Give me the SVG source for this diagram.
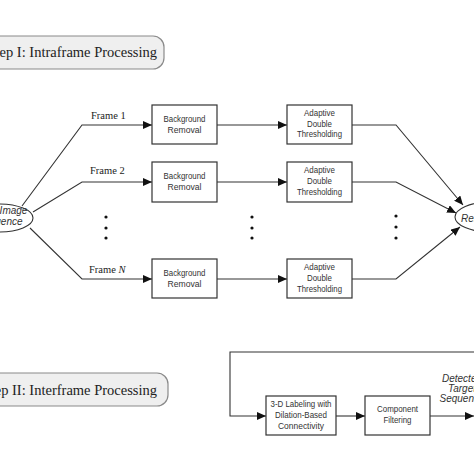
<svg xmlns="http://www.w3.org/2000/svg" width="474" height="474" viewBox="0 0 474 474">
<style>
.bg{fill:#ffffff}
.step{fill:#efefef;stroke:#8a8a8a;stroke-width:1.2}
.steptxt{font-family:"Liberation Serif",serif;font-size:14.5px;fill:#222;text-anchor:end}
.box{fill:#ffffff;stroke:#333;stroke-width:1.2}
.bt{font-family:"Liberation Sans",Arial,sans-serif;font-size:9.5px;fill:#333;text-anchor:middle}
.el{fill:#ffffff;stroke:#333;stroke-width:1.1}
.it{font-family:"Liberation Sans",Arial,sans-serif;font-size:10px;font-style:italic;fill:#333}
.fr{font-family:"Liberation Serif",serif;font-size:10.5px;fill:#222}
.ln{fill:none;stroke:#333;stroke-width:1.1}
.dot{fill:#111}
</style>
<defs>
<marker id="ah" markerUnits="userSpaceOnUse" markerWidth="9" markerHeight="8" refX="9" refY="4" orient="auto">
<path d="M0,0 L9,4 L0,8 z" fill="#111"/>
</marker>
</defs>
<rect class="bg" x="0" y="0" width="474" height="474"/>

<g id="step1">
<rect class="step" x="-20" y="36" width="184" height="33" rx="11"/>
<text class="steptxt" x="157" y="57">Step I: Intraframe Processing</text>
</g>
<g id="step2">
<rect class="step" x="-20" y="373" width="188" height="33" rx="11"/>
<text class="steptxt" x="157" y="395">Step II: Interframe Processing</text>
</g>

<g id="connectors">
<polyline class="ln" points="22,206 82,125 152,125" marker-end="url(#ah)"/>
<polyline class="ln" points="33,212 82,182 152,182" marker-end="url(#ah)"/>
<polyline class="ln" points="30,228 82,279 152,279" marker-end="url(#ah)"/>
<line class="ln" x1="217" y1="125" x2="287" y2="125" marker-end="url(#ah)"/>
<line class="ln" x1="217" y1="182" x2="287" y2="182" marker-end="url(#ah)"/>
<line class="ln" x1="217" y1="279" x2="287" y2="279" marker-end="url(#ah)"/>
<polyline class="ln" points="352,125 396,125 463,205" marker-end="url(#ah)"/>
<polyline class="ln" points="352,182 396,182 456,213" marker-end="url(#ah)"/>
<polyline class="ln" points="352,279 396,279 460,227" marker-end="url(#ah)"/>
<polyline class="ln" points="480,352 230,352 230,416 266,416" marker-end="url(#ah)"/>
<line class="ln" x1="336" y1="416" x2="365" y2="416" marker-end="url(#ah)"/>
<line class="ln" x1="430" y1="416" x2="474" y2="416" marker-end="url(#ah)"/>
</g>

<g id="labels">
<text class="fr" x="91" y="119">Frame 1</text>
<text class="fr" x="90" y="174">Frame 2</text>
<text class="fr" x="89" y="273">Frame <tspan font-style="italic">N</tspan></text>
<text class="it" x="462" y="382" text-anchor="middle">Detected</text>
<text class="it" x="462" y="392" text-anchor="middle">Target</text>
<text class="it" x="462" y="402" text-anchor="middle">Sequence</text>
</g>

<g id="input">
<ellipse class="el" cx="-1" cy="218" rx="34" ry="14"/>
<text class="it" x="1" y="214" text-anchor="middle">Input Image</text>
<text class="it" x="0" y="225" text-anchor="middle">Sequence</text>
</g>

<g id="result">
<ellipse class="el" cx="490" cy="217" rx="35" ry="15"/>
<text class="it" x="461" y="222" font-style="normal">Result</text>
</g>

<g id="br1">
<rect class="box" x="152" y="105" width="65" height="39"/>
<text class="bt" x="184.5" y="122" textLength="42" lengthAdjust="spacingAndGlyphs">Background</text>
<text class="bt" x="184.5" y="133" textLength="34" lengthAdjust="spacingAndGlyphs">Removal</text>
</g>
<g id="br2">
<rect class="box" x="152" y="162" width="65" height="40"/>
<text class="bt" x="184.5" y="179" textLength="42" lengthAdjust="spacingAndGlyphs">Background</text>
<text class="bt" x="184.5" y="190" textLength="34" lengthAdjust="spacingAndGlyphs">Removal</text>
</g>
<g id="brN">
<rect class="box" x="152" y="259" width="65" height="39"/>
<text class="bt" x="184.5" y="276" textLength="42" lengthAdjust="spacingAndGlyphs">Background</text>
<text class="bt" x="184.5" y="287" textLength="34" lengthAdjust="spacingAndGlyphs">Removal</text>
</g>

<g id="adt1">
<rect class="box" x="287" y="105" width="65" height="39"/>
<text class="bt" x="319.5" y="116" textLength="31" lengthAdjust="spacingAndGlyphs">Adaptive</text>
<text class="bt" x="319.5" y="126.5" textLength="25" lengthAdjust="spacingAndGlyphs">Double</text>
<text class="bt" x="319.5" y="137" textLength="45" lengthAdjust="spacingAndGlyphs">Thresholding</text>
</g>
<g id="adt2">
<rect class="box" x="287" y="162" width="65" height="40"/>
<text class="bt" x="319.5" y="173" textLength="31" lengthAdjust="spacingAndGlyphs">Adaptive</text>
<text class="bt" x="319.5" y="184" textLength="25" lengthAdjust="spacingAndGlyphs">Double</text>
<text class="bt" x="319.5" y="194.5" textLength="45" lengthAdjust="spacingAndGlyphs">Thresholding</text>
</g>
<g id="adtN">
<rect class="box" x="287" y="259" width="65" height="39"/>
<text class="bt" x="319.5" y="270" textLength="31" lengthAdjust="spacingAndGlyphs">Adaptive</text>
<text class="bt" x="319.5" y="281" textLength="25" lengthAdjust="spacingAndGlyphs">Double</text>
<text class="bt" x="319.5" y="291.5" textLength="45" lengthAdjust="spacingAndGlyphs">Thresholding</text>
</g>

<g id="labeling">
<rect class="box" x="266" y="396" width="70" height="39"/>
<text class="bt" x="301" y="406.5" textLength="61" lengthAdjust="spacingAndGlyphs">3-D Labeling with</text>
<text class="bt" x="301" y="417.5" textLength="52" lengthAdjust="spacingAndGlyphs">Dilation-Based</text>
<text class="bt" x="301" y="428.5" textLength="46" lengthAdjust="spacingAndGlyphs">Connectivity</text>
</g>
<g id="filtering">
<rect class="box" x="365" y="396" width="65" height="39"/>
<text class="bt" x="397.5" y="412" textLength="41" lengthAdjust="spacingAndGlyphs">Component</text>
<text class="bt" x="397.5" y="423" textLength="28" lengthAdjust="spacingAndGlyphs">Filtering</text>
</g>

<g id="dots">
<circle class="dot" cx="106" cy="217" r="1.6"/>
<circle class="dot" cx="106" cy="228" r="1.6"/>
<circle class="dot" cx="106" cy="238" r="1.6"/>
<circle class="dot" cx="252" cy="217" r="1.6"/>
<circle class="dot" cx="252" cy="228" r="1.6"/>
<circle class="dot" cx="252" cy="238" r="1.6"/>
<circle class="dot" cx="396" cy="216" r="1.6"/>
<circle class="dot" cx="396" cy="227" r="1.6"/>
<circle class="dot" cx="396" cy="238" r="1.6"/>
</g>
</svg>
